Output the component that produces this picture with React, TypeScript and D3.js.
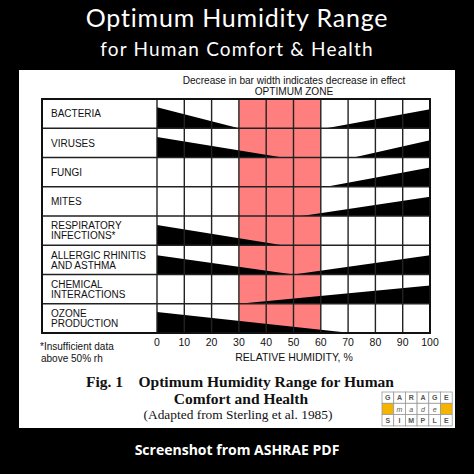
import React from "react";
import * as d3 from "d3";

// rows of the chart, top to bottom
const categories = [
  ["BACTERIA"],
  ["VIRUSES"],
  ["FUNGI"],
  ["MITES"],
  ["RESPIRATORY", "INFECTIONS*"],
  ["ALLERGIC RHINITIS", "AND ASTHMA"],
  ["CHEMICAL", "INTERACTIONS"],
  ["OZONE", "PRODUCTION"],
];

// left wedge: width (share of row) at 0% rh, tapering to 0 at leftEnd
const leftWidth = [0.72, 0.7, 0, 0, 0.69, 0.66, 0, 0.72];
const leftEnd = [30, 46, 0, 0, 46, 50, 0, 71];
// right wedge: 0 at rightStart, growing to rightWidth at 100% rh
const rightStart = [62, 72, 62, 53, 100, 50, 30, 100];
const rightWidth = [0.65, 0.59, 0.66, 0.66, 0, 0.66, 0.62, 0];

const humidityTicks = [0, 10, 20, 30, 40, 50, 60, 70, 80, 90, 100];
const optimumZone = [30, 60];

const logoTop = ["G", "A", "R", "A", "G", "E"];
const logoMid = ["", "m", "a", "d", "e", ""];
const logoBottom = ["S", "I", "M", "P", "L", "E"];

const W = 474;
const H = 474;
const gridLeft = 42;
const gridTop = 99;
const gridBottom = 333;
const sans = "'Liberation Sans', Arial, sans-serif";
const serif = "'Liberation Serif', 'Times New Roman', serif";

export default function App() {
  const x = d3.scaleLinear().domain([0, 100]).range([157, 430]);
  const y = d3
    .scaleBand<number>()
    .domain(d3.range(categories.length))
    .range([gridTop, gridBottom])
    .paddingInner(0);
  const bh = y.bandwidth();

  const wedge = d3.line<[number, number]>();

  return (
    <div style={{ position: "fixed", left: 0, top: 0 }}>
      <svg width={W} height={H} style={{ display: "block", background: "#000" }}>
        <rect x={0} y={0} width={W} height={H} fill="#000" />

        {/* title */}
        <text x={W / 2} y={27} textAnchor="middle" fill="#fff" fontFamily="Lato, sans-serif" fontSize={25} letterSpacing={0.8}>
          Optimum Humidity Range
        </text>
        <text x={W / 2} y={56} textAnchor="middle" fill="#fff" fontFamily="Lato, sans-serif" fontSize={19} letterSpacing={1.2}>
          for Human Comfort &amp; Health
        </text>

        {/* white page */}
        <rect x={19} y={70} width={436} height={358} fill="#fff" />

        <text x={294} y={84} textAnchor="middle" fontFamily={sans} fontSize={10.1} fill="#111">
          Decrease in bar width indicates decrease in effect
        </text>
        <text x={294} y={95} textAnchor="middle" fontFamily={sans} fontSize={10.1} fill="#111">
          OPTIMUM ZONE
        </text>

        {/* optimum zone */}
        <rect
          x={x(optimumZone[0])}
          y={gridTop}
          width={x(optimumZone[1]) - x(optimumZone[0])}
          height={gridBottom - gridTop}
          fill="#ff7f7f"
        />

        {/* wedges */}
        {categories.map((_, i) => {
          const top = y(i)!;
          const bottom = top + bh;
          const v = d3.scaleLinear().domain([0, 1]).range([bottom, top]);
          return (
            <g key={i}>
              {leftWidth[i] > 0 && (
                <path
                  d={wedge([
                    [x(0), v(leftWidth[i])],
                    [x(leftEnd[i]), v(0)],
                    [x(0), v(0)],
                  ])!}
                  fill="#000"
                />
              )}
              {rightWidth[i] > 0 && (
                <path
                  d={wedge([
                    [x(rightStart[i]), v(0)],
                    [x(100), v(rightWidth[i])],
                    [x(100), v(0)],
                  ])!}
                  fill="#000"
                />
              )}
            </g>
          );
        })}

        {/* grid lines */}
        <g stroke="#222" strokeWidth={1.4}>
          {humidityTicks.map((t) => (
            <line key={t} x1={x(t)} x2={x(t)} y1={gridTop} y2={gridBottom} />
          ))}
          {d3.range(categories.length + 1).map((i) => {
            const yy = i < categories.length ? y(i)! : gridBottom;
            return <line key={i} x1={gridLeft} x2={x(100)} y1={yy} y2={yy} />;
          })}
          <line x1={gridLeft} x2={gridLeft} y1={gridTop} y2={gridBottom} />
        </g>
        <rect
          x={gridLeft}
          y={gridTop}
          width={x(100) - gridLeft}
          height={gridBottom - gridTop}
          fill="none"
          stroke="#111"
          strokeWidth={2}
        />

        {/* row labels */}
        {categories.map((lines, i) => {
          const mid = y(i)! + bh / 2;
          const start = mid - ((lines.length - 1) * 10) / 2;
          return (
            <text key={i} fontFamily={sans} fontSize={10} fill="#111">
              {lines.map((l, j) => (
                <tspan key={j} x={51} y={start + j * 10 + 3.7}>
                  {l}
                </tspan>
              ))}
            </text>
          );
        })}

        {/* x axis */}
        {humidityTicks.map((t) => (
          <text key={t} x={x(t)} y={346} textAnchor="middle" fontFamily={sans} fontSize={10.5} fill="#111">
            {t}
          </text>
        ))}
        <text x={294} y={361} textAnchor="middle" fontFamily={sans} fontSize={10.5} fill="#111">
          RELATIVE HUMIDITY, %
        </text>
        <text fontFamily={sans} fontSize={10} fill="#111">
          <tspan x={40} y={350}>*Insufficient data</tspan>
          <tspan x={41} y={362}>above 50% rh</tspan>
        </text>

        {/* caption */}
        <text x={240} y={387} textAnchor="middle" fontFamily={serif} fontWeight="bold" fontSize={15.5} fill="#111" style={{ whiteSpace: "pre" }}>
          {"Fig. 1    Optimum Humidity Range for Human"}
        </text>
        <text x={241} y={404} textAnchor="middle" fontFamily={serif} fontWeight="bold" fontSize={15.5} fill="#111">
          Comfort and Health
        </text>
        <text x={238} y={419} textAnchor="middle" fontFamily={serif} fontSize={13.4} fill="#111">
          (Adapted from Sterling et al. 1985)
        </text>

        {/* logo */}
        <g transform="translate(382,392)">
          {[logoTop, logoMid, logoBottom].map((row, r) =>
            row.map((ch, c) => {
              const filled = r === 1 && (c === 0 || c === 5);
              return (
                <g key={`${r}-${c}`} transform={`translate(${c * 11.7},${r * 11.3})`}>
                  <rect width={11.7} height={11.3} fill={filled ? "#f5b400" : "#fff"} stroke="#999" strokeWidth={0.8} />
                  <text
                    x={5.85}
                    y={8.4}
                    textAnchor="middle"
                    fontFamily={sans}
                    fontSize={7}
                    fontWeight={r === 1 ? "normal" : "bold"}
                    fontStyle={r === 1 ? "italic" : "normal"}
                    fill="#555"
                  >
                    {ch}
                  </text>
                </g>
              );
            })
          )}
        </g>

        {/* footer */}
        <text x={237} y={455} textAnchor="middle" fill="#fff" fontFamily="'Open Sans', sans-serif" fontWeight="bold" fontSize={14}>
          Screenshot from ASHRAE PDF
        </text>
      </svg>
    </div>
  );
}
